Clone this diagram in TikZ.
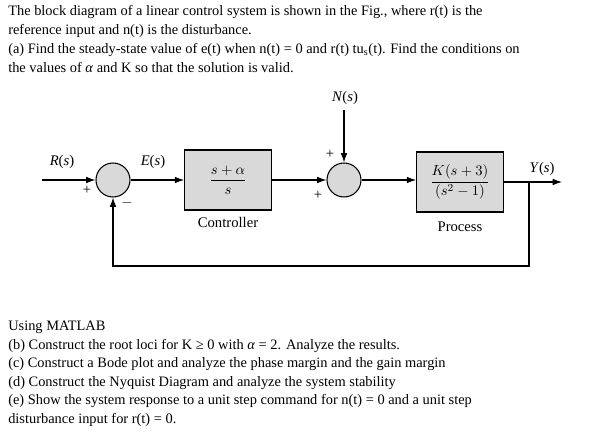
\documentclass[tikz,border=0pt]{standalone}
\usepackage{fontspec}
\setmainfont{Liberation Serif}
\usetikzlibrary{arrows.meta}
\begin{document}
\begin{tikzpicture}[x=0.75pt,y=0.75pt,yscale=-1,xscale=1,
  sumnode/.style={circle,draw,line width=0.8pt,fill=gray!30,minimum size=25.5pt,inner sep=0pt},
  blk/.style={draw,line width=0.8pt,fill=gray!30,minimum width=65pt,minimum height=45pt,inner sep=0pt,font=\fontsize{11}{12}\selectfont},
  sig/.style={-{Latex[length=7pt,width=5pt]},line width=0.8pt},
  lbl/.style={inner sep=0.75pt,font=\fontsize{11}{12}\selectfont},
  txt/.style={anchor=north west,align=left,inner sep=0pt,font=\fontsize{10.8}{14.25}\selectfont}]
\useasboundingbox (0,0) rectangle (592,435);
\node [txt] (qtop) at (8,5) {The block diagram of a linear control system is shown in the Fig., where r(t) is the\\reference input and n(t) is the disturbance.\\(a) Find the steady-state value of e(t) when n(t) = 0 and r(t) tu\textsubscript{s}(t). Find the conditions on\\the values of \textit{α} and K so that the solution is valid.};
\coordinate (rin) at (42,180);
\node [sumnode] (sumA) at (113,180) {};
\node [blk] (ctrl) at (228,180) {$\displaystyle\frac{s+\alpha}{s}$};
\node [sumnode] (sumB) at (344,180) {};
\coordinate (nin) at (344,110);
\node [blk] (proc) at (460,182) {$\displaystyle\frac{K(s+3)}{(s^2-1)}$};
\coordinate (yout) at (562,182);
\coordinate (brch) at (529,182);
\coordinate (fbk) at (529,266);
\draw [sig] (rin) -- (sumA);
\draw [sig] (sumA) -- (ctrl);
\draw [sig] (ctrl) -- (sumB);
\draw [sig] (nin) -- (sumB);
\draw [sig] (sumB) -- (sumB -| proc.west);
\draw [sig] (proc) -- (yout);
\draw [sig] (brch) -- (fbk) -| (sumA);
\node [lbl] (rlab) at (62,162) {\textit{R}(\textit{s})};
\node [lbl] (elab) at (153,162) {\textit{E}(\textit{s})};
\node [lbl] (nlab) at (345,98) {\textit{N}(\textit{s})};
\node [lbl] (ylab) at (542,169) {\textit{Y}(\textit{s})};
\node [lbl] (clab) at (228,222) {Controller};
\node [lbl] (plab) at (460,227) {Process};
\node [lbl] (p1) at (87,190) {+};
\node [lbl] (m1) at (127,203) {$-$};
\node [lbl] (p2) at (330,154) {+};
\node [lbl] (p3) at (318,195) {+};
\node [txt,font=\fontsize{10.8}{13.9}\selectfont] (qbot) at (8,321) {Using MATLAB\\(b) Construct the root loci for K ≥ 0 with \textit{α} = 2. Analyze the results.\\(c) Construct a Bode plot and analyze the phase margin and the gain margin\\(d) Construct the Nyquist Diagram and analyze the system stability\\(e) Show the system response to a unit step command for n(t) = 0 and a unit step\\disturbance input for r(t) = 0.};
\end{tikzpicture}
\end{document}
